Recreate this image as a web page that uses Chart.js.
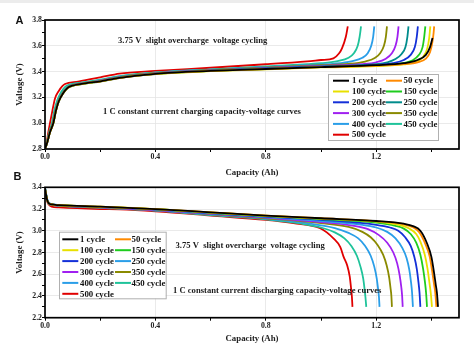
<!DOCTYPE html>
<html><head><meta charset="utf-8">
<script src="https://cdn.jsdelivr.net/npm/chart.js@4"></script>
<style>
html,body{margin:0;padding:0;background:#fff;}
#wrap{position:relative;width:474px;height:358px;overflow:hidden;background:#fff;}
#strip{position:absolute;left:0;top:0;width:474px;height:3px;background:#ececec;}
canvas{position:absolute;left:0;}
#cA{top:0;} #cB{top:170px;}
</style></head><body>
<div id="wrap"><div id="strip"></div><canvas id="cA" width="474" height="182"></canvas><canvas id="cB" width="474" height="188"></canvas></div>
<script>
// ---------- data ----------
const cycles = ['1 cycle','50 cycle','100 cycle','150 cycle','200 cycle','250 cycle','300 cycle','350 cycle','400 cycle','450 cycle','500 cycle'];
const colorsA = ['#000000','#ff8a00','#e8e000','#1ecc1e','#1430d8','#008c8c','#a020f0','#8a8a00','#2a9ee8','#1fc39a','#e00000'];
const colorsB = ['#000000','#ff8a00','#e8e000','#1ecc1e','#1430d8','#2a9ee8','#a020f0','#8a8a00','#2a9ee8','#1fc39a','#e00000'];
const xTicksLabeled = [0.0, 0.4, 0.8, 1.2];

// charging (capacity Ah, voltage V)
const chg1   = [[0,2.80],[0.008,2.85],[0.018,2.93],[0.03,3.0],[0.04,3.1],[0.05,3.17],[0.065,3.23],[0.08,3.27],[0.091,3.285],[0.15,3.31],[0.2,3.325],[0.27,3.352],[0.4,3.383],[0.6,3.405],[0.8,3.42],[1.0,3.435],[1.2,3.45],[1.3,3.465],[1.35,3.49],[1.38,3.53],[1.395,3.59],[1.404,3.66]];
const chg50  = [[0,2.80],[0.008,2.85],[0.018,2.93],[0.03,3.0],[0.04,3.1],[0.05,3.17],[0.065,3.23],[0.08,3.27],[0.091,3.285],[0.15,3.31],[0.2,3.325],[0.27,3.352],[0.4,3.383],[0.6,3.405],[0.8,3.42],[1.0,3.435],[1.2,3.447],[1.3,3.458],[1.35,3.472],[1.38,3.50],[1.395,3.55],[1.403,3.62],[1.408,3.70],[1.41,3.75]];
const chg100 = [[0,2.80],[0.008,2.85],[0.018,2.93],[0.03,3.0],[0.04,3.1],[0.05,3.17],[0.065,3.23],[0.08,3.268],[0.091,3.283],[0.15,3.308],[0.2,3.323],[0.27,3.35],[0.4,3.38],[0.6,3.403],[0.8,3.418],[1.0,3.432],[1.2,3.443],[1.3,3.456],[1.345,3.475],[1.37,3.515],[1.385,3.58],[1.392,3.66],[1.396,3.75]];
const chg150 = [[0,2.80],[0.008,2.85],[0.018,2.93],[0.03,3.0],[0.04,3.1],[0.05,3.17],[0.065,3.23],[0.08,3.268],[0.091,3.283],[0.15,3.308],[0.2,3.324],[0.27,3.352],[0.4,3.382],[0.6,3.405],[0.8,3.42],[1.0,3.435],[1.2,3.447],[1.28,3.46],[1.33,3.485],[1.355,3.53],[1.368,3.59],[1.374,3.67],[1.378,3.75]];
const chg200 = [[0,2.80],[0.008,2.85],[0.018,2.93],[0.03,3.0],[0.04,3.1],[0.05,3.17],[0.065,3.23],[0.08,3.268],[0.091,3.283],[0.15,3.308],[0.2,3.323],[0.27,3.35],[0.4,3.381],[0.6,3.405],[0.8,3.422],[1.0,3.437],[1.2,3.452],[1.26,3.466],[1.3,3.49],[1.325,3.53],[1.34,3.59],[1.347,3.67],[1.351,3.75]];
const chg250 = [[0,2.80],[0.008,2.85],[0.017,2.93],[0.029,3.0],[0.039,3.1],[0.049,3.17],[0.064,3.23],[0.079,3.27],[0.09,3.286],[0.15,3.31],[0.2,3.326],[0.27,3.354],[0.4,3.385],[0.6,3.408],[0.8,3.425],[1.0,3.44],[1.2,3.458],[1.24,3.472],[1.27,3.497],[1.292,3.537],[1.306,3.59],[1.313,3.67],[1.317,3.75]];
const chg300 = [[0,2.80],[0.008,2.85],[0.017,2.93],[0.029,3.0],[0.039,3.1],[0.049,3.17],[0.064,3.23],[0.079,3.27],[0.09,3.286],[0.15,3.312],[0.2,3.328],[0.27,3.356],[0.4,3.387],[0.6,3.41],[0.8,3.428],[1.0,3.445],[1.15,3.458],[1.2,3.472],[1.235,3.50],[1.256,3.54],[1.27,3.60],[1.277,3.67],[1.281,3.75]];
const chg350 = [[0,2.80],[0.007,2.85],[0.016,2.93],[0.028,3.0],[0.038,3.1],[0.048,3.17],[0.063,3.232],[0.078,3.272],[0.089,3.288],[0.15,3.314],[0.2,3.33],[0.27,3.358],[0.4,3.389],[0.6,3.413],[0.8,3.432],[1.0,3.45],[1.1,3.46],[1.16,3.478],[1.195,3.505],[1.215,3.545],[1.228,3.60],[1.235,3.67],[1.239,3.75]];
const chg400 = [[0,2.80],[0.007,2.85],[0.016,2.93],[0.027,3.0],[0.037,3.1],[0.047,3.17],[0.062,3.234],[0.077,3.274],[0.088,3.29],[0.15,3.316],[0.2,3.333],[0.27,3.361],[0.4,3.391],[0.6,3.416],[0.8,3.436],[1.0,3.455],[1.05,3.462],[1.11,3.48],[1.15,3.507],[1.17,3.545],[1.182,3.60],[1.189,3.67],[1.193,3.75]];
const chg450 = [[0,2.80],[0.007,2.85],[0.015,2.93],[0.025,3.0],[0.034,3.1],[0.044,3.175],[0.058,3.24],[0.072,3.28],[0.084,3.295],[0.15,3.32],[0.2,3.337],[0.27,3.365],[0.4,3.394],[0.6,3.418],[0.8,3.44],[0.95,3.458],[1.0,3.465],[1.06,3.482],[1.1,3.508],[1.12,3.545],[1.133,3.60],[1.14,3.67],[1.145,3.75]];
const chg500 = [[0,2.80],[0.006,2.85],[0.012,2.93],[0.018,3.0],[0.027,3.1],[0.036,3.19],[0.05,3.25],[0.062,3.285],[0.0725,3.304],[0.12,3.322],[0.2,3.355],[0.27,3.385],[0.4,3.405],[0.6,3.43],[0.8,3.457],[0.95,3.48],[1.0,3.49],[1.045,3.503],[1.065,3.54],[1.076,3.58],[1.09,3.67],[1.097,3.75]];

// discharging (capacity Ah, voltage V)
const dis1   = [[0,3.39],[0.004,3.33],[0.008,3.28],[0.014,3.252],[0.024,3.242],[0.05,3.236],[0.2,3.222],[0.4,3.20],[0.6,3.17],[0.8,3.14],[1.0,3.115],[1.2,3.09],[1.3,3.065],[1.336,3.04],[1.36,3.0],[1.384,2.885],[1.40,2.76],[1.408,2.64],[1.416,2.50],[1.42,2.43],[1.424,2.30]];
const dis50  = [[0,3.39],[0.004,3.33],[0.008,3.28],[0.014,3.252],[0.024,3.242],[0.05,3.236],[0.2,3.222],[0.4,3.20],[0.6,3.17],[0.8,3.14],[1.0,3.115],[1.2,3.088],[1.3,3.06],[1.33,3.035],[1.355,2.99],[1.378,2.88],[1.394,2.76],[1.402,2.64],[1.41,2.50],[1.414,2.43],[1.418,2.30]];
const dis100 = [[0,3.39],[0.004,3.33],[0.008,3.28],[0.014,3.252],[0.024,3.242],[0.05,3.235],[0.2,3.221],[0.4,3.20],[0.6,3.168],[0.8,3.138],[1.0,3.112],[1.2,3.085],[1.29,3.05],[1.32,3.02],[1.345,2.97],[1.36,2.90],[1.376,2.78],[1.386,2.65],[1.394,2.50],[1.398,2.42],[1.402,2.30]];
const dis150 = [[0,3.39],[0.004,3.33],[0.008,3.28],[0.014,3.252],[0.024,3.242],[0.05,3.235],[0.2,3.22],[0.4,3.198],[0.6,3.166],[0.8,3.135],[1.0,3.108],[1.2,3.075],[1.27,3.045],[1.30,3.02],[1.325,2.97],[1.345,2.89],[1.36,2.78],[1.37,2.65],[1.377,2.52],[1.381,2.42],[1.384,2.30]];
const dis200 = [[0,3.39],[0.004,3.33],[0.008,3.28],[0.014,3.252],[0.024,3.242],[0.05,3.234],[0.2,3.219],[0.4,3.196],[0.6,3.163],[0.8,3.13],[1.0,3.10],[1.2,3.055],[1.25,3.03],[1.28,3.0],[1.305,2.94],[1.325,2.86],[1.338,2.76],[1.347,2.65],[1.353,2.53],[1.357,2.43],[1.36,2.30]];
const dis250 = [[0,3.40],[0.004,3.34],[0.008,3.29],[0.014,3.256],[0.024,3.246],[0.05,3.238],[0.2,3.22],[0.4,3.195],[0.6,3.16],[0.8,3.125],[1.0,3.09],[1.15,3.055],[1.2,3.03],[1.24,2.99],[1.27,2.93],[1.295,2.84],[1.31,2.75],[1.32,2.64],[1.326,2.53],[1.33,2.43],[1.333,2.30]];
const dis300 = [[0,3.39],[0.004,3.33],[0.008,3.28],[0.014,3.25],[0.024,3.24],[0.05,3.232],[0.2,3.216],[0.4,3.19],[0.6,3.155],[0.8,3.12],[1.0,3.08],[1.12,3.045],[1.17,3.015],[1.21,2.96],[1.24,2.89],[1.262,2.80],[1.276,2.70],[1.285,2.59],[1.291,2.48],[1.294,2.40],[1.296,2.30]];
const dis350 = [[0,3.39],[0.004,3.33],[0.008,3.28],[0.014,3.25],[0.024,3.24],[0.05,3.232],[0.2,3.215],[0.4,3.19],[0.6,3.153],[0.8,3.115],[1.0,3.07],[1.1,3.035],[1.15,2.99],[1.18,2.94],[1.205,2.87],[1.225,2.78],[1.238,2.68],[1.247,2.57],[1.252,2.47],[1.255,2.40],[1.257,2.30]];
const dis400 = [[0,3.40],[0.004,3.34],[0.008,3.29],[0.014,3.256],[0.024,3.246],[0.05,3.236],[0.2,3.216],[0.4,3.188],[0.6,3.15],[0.8,3.11],[0.95,3.07],[1.05,3.025],[1.10,2.98],[1.135,2.93],[1.16,2.86],[1.18,2.77],[1.193,2.67],[1.202,2.56],[1.207,2.46],[1.21,2.39],[1.212,2.30]];
const dis450 = [[0,3.39],[0.004,3.33],[0.008,3.28],[0.014,3.248],[0.024,3.238],[0.05,3.23],[0.2,3.212],[0.4,3.185],[0.6,3.145],[0.8,3.105],[0.93,3.065],[1.0,3.03],[1.05,2.985],[1.085,2.93],[1.11,2.86],[1.13,2.77],[1.143,2.67],[1.153,2.56],[1.158,2.46],[1.161,2.39],[1.164,2.30]];
const dis500 = [[0,3.36],[0.004,3.31],[0.008,3.27],[0.012,3.245],[0.024,3.222],[0.05,3.215],[0.2,3.20],[0.27,3.196],[0.4,3.178],[0.6,3.14],[0.8,3.10],[0.9,3.07],[0.997,3.023],[1.045,2.93],[1.07,2.85],[1.082,2.76],[1.095,2.68],[1.104,2.58],[1.109,2.47],[1.112,2.39],[1.114,2.30]];

const chargeSeries = [chg1,chg50,chg100,chg150,chg200,chg250,chg300,chg350,chg400,chg450,chg500];
const dischargeSeries = [dis1,dis50,dis100,dis150,dis200,dis250,dis300,dis350,dis400,dis450,dis500];

// ---------- drawing ----------
const SERIF = '"Liberation Serif","Times New Roman",serif';
const framePlugin = {
  id: 'frame',
  afterDatasetsDraw(chart, args, o) {
    const ctx = chart.ctx, a = chart.chartArea;
    ctx.save();
    ctx.strokeStyle = '#000'; ctx.lineWidth = 1.7;
    ctx.strokeRect(a.left, a.top, a.right - a.left, a.bottom - a.top);
    ctx.textBaseline = 'middle'; ctx.textAlign = 'left';
    ctx.fillStyle = '#1c1c1c';
    o.notes.forEach(n => { ctx.font = 'bold 8.6px ' + SERIF; ctx.fillText(n.text, n.x, n.y); });
    ctx.fillStyle = '#111';
    ctx.font = 'bold 11px "Liberation Sans",Arial,sans-serif';
    ctx.fillText(o.letter.text, o.letter.x, o.letter.y);
    const L = o.legend;
    ctx.fillStyle = '#fff'; ctx.fillRect(L.x, L.y, L.w, L.h);
    ctx.strokeStyle = '#b0b0b0'; ctx.lineWidth = 1;
    ctx.strokeRect(L.x + 0.5, L.y + 0.5, L.w, L.h);
    ctx.font = 'bold 8.8px ' + SERIF;
    chart.data.datasets.forEach((ds, i) => {
      const r = Math.floor(i / 2), c = i % 2;
      const y = L.row0 + r * L.dy;
      ctx.strokeStyle = ds.borderColor; ctx.lineWidth = 2;
      ctx.beginPath(); ctx.moveTo(L.lineX[c], y); ctx.lineTo(L.lineX[c] + L.lineLen, y); ctx.stroke();
      ctx.fillStyle = '#111';
      ctx.fillText(ds.label, L.textX[c], y + 0.5);
    });
    ctx.restore();
  }
};

function makeChart(id, series, colors, cfg) {
  const datasets = series.map((s, i) => ({
    label: cycles[i],
    data: s.map(p => ({x: p[0], y: p[1]})),
    borderColor: colors[i],
    backgroundColor: colors[i],
    borderWidth: 1.8,
    pointRadius: 0,
    showLine: true,
    fill: false,
    cubicInterpolationMode: 'monotone'
  }));
  const isMajorX = v => xTicksLabeled.some(t => Math.abs(t - v) < 1e-6);
  return new Chart(document.getElementById(id), {
    type: 'scatter',
    data: { datasets },
    options: {
      responsive: false, animation: false, devicePixelRatio: 1,
      layout: { padding: { left: 0, right: 15, top: cfg.padTop, bottom: 0 } },
      plugins: { legend: { display: false }, tooltip: { enabled: false }, frame: cfg.frame },
      scales: {
        x: {
          type: 'linear', min: 0, max: 1.5,
          afterFit: s => { s.height = cfg.xHeight; },
          ticks: { stepSize: 0.2, includeBounds: false, autoSkip: false, maxRotation: 0, padding: cfg.xPad,
            color: '#222', font: { family: SERIF, weight: 'bold', size: 7.8 },
            callback: v => isMajorX(v) ? v.toFixed(1) : '' },
          grid: { color: c => (c.tick && isMajorX(c.tick.value)) ? '#e4e4e4' : 'rgba(0,0,0,0)', lineWidth: 0.8, tickColor: '#000', tickLength: 3, tickWidth: 1 },
          border: { display: false },
          title: { display: true, text: 'Capacity (Ah)', color: '#222', font: { family: SERIF, weight: 'bold', size: 8.8 }, padding: { top: 0, bottom: cfg.xTitlePad } }
        },
        y: {
          type: 'linear', min: cfg.yMin, max: cfg.yMax,
          afterFit: s => { s.width = 45; },
          ticks: { stepSize: 0.1, autoSkip: false, padding: 0, color: '#222', font: { family: SERIF, weight: 'bold', size: 7.8 },
            callback: v => (Math.round(v * 10) % 2 === 0) ? v.toFixed(1) : '' },
          grid: { color: c => (c.tick && Math.round(c.tick.value * 10) % 2 === 0) ? '#e4e4e4' : 'rgba(0,0,0,0)', lineWidth: 0.8, tickColor: '#000', tickLength: 3, tickWidth: 1 },
          border: { display: false },
          title: { display: true, text: cfg.yTitle, color: '#222', font: { family: SERIF, weight: 'bold', size: 8.8 }, padding: { top: 14, bottom: 0 } }
        }
      }
    },
    plugins: [framePlugin]
  });
}

makeChart('cA', chargeSeries, colorsA, {
  padTop: 20, xHeight: 33, xPad: 0, xTitlePad: 3.6, yMin: 2.8, yMax: 3.8, yTitle: 'Valtage (V)',
  frame: {
    notes: [
      { text: '3.75 V  slight overcharge  voltage cycling', x: 118, y: 40.5 },
      { text: '1 C constant current charging capacity-voltage curves', x: 103, y: 112 }
    ],
    letter: { text: 'A', x: 15.5, y: 20.5 },
    legend: { x: 328, y: 74, w: 110, h: 66, row0: 80.7, dy: 10.8, lineX: [333, 386], lineLen: 16, textX: [352, 403.5] }
  }
});
makeChart('cB', dischargeSeries, colorsB, {
  padTop: 17.3, xHeight: 40.3, xPad: 1, xTitlePad: 13.6, yMin: 2.2, yMax: 3.4, yTitle: 'Voltage (V)',
  frame: {
    notes: [
      { text: '3.75 V  slight overcharge  voltage cycling', x: 175.5, y: 75.7 },
      { text: '1 C constant current discharging capacity-voltage curves', x: 173, y: 121 }
    ],
    letter: { text: 'B', x: 13.5, y: 6.7 },
    legend: { x: 59, y: 61.7, w: 106.7, h: 66.6, row0: 69.3, dy: 10.9, lineX: [62.3, 115], lineLen: 16, textX: [80, 131.5] }
  }
});
</script>
</body></html>
